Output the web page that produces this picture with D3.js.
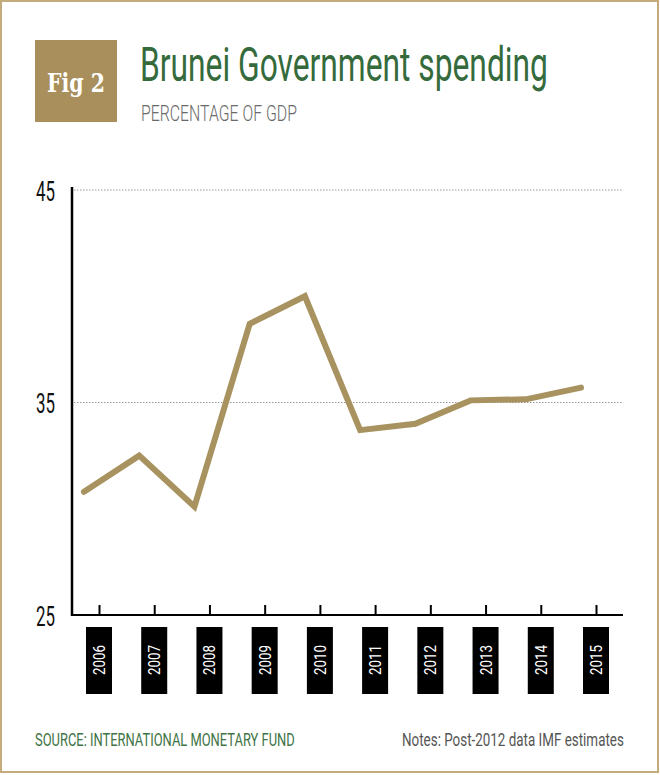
<!DOCTYPE html>
<html>
<head>
<meta charset="utf-8">
<script src="https://cdn.jsdelivr.net/npm/d3@7"></script>
<style>
  body { margin: 0; background: #fff; }
  text { font-family: Roboto, "Noto Sans", sans-serif; }
</style>
</head>
<body>
<div id="chart"></div>
<script>
// 資料
var years = ["2006", "2007", "2008", "2009", "2010", "2011", "2012", "2013", "2014", "2015"];
var spending = [30.8, 32.5, 30.1, 38.7, 40.0, 33.7, 34.0, 35.1, 35.15, 35.7];
var yTicks = [25, 35, 45];

var W = 660, H = 775;

var svg = d3.select("#chart")
    .append("svg")
    .attr("width", W)
    .attr("height", H);

// 把文字水平壓窄到指定寬度（模擬窄體字型）
function squeeze(sel, w, x0, y0) {
    sel.each(function () {
        var len = this.getComputedTextLength();
        var k = w / len;
        d3.select(this).attr("transform",
            "translate(" + x0 + "," + y0 + ") scale(" + k + ",1)");
    });
}

// 外框
svg.append("rect")
    .attr("x", 1).attr("y", 1)
    .attr("width", W - 3).attr("height", H - 4)
    .attr("fill", "#fff")
    .attr("stroke", "#c4ab7c")
    .attr("stroke-width", 2);

// Fig 2 方塊
svg.append("rect")
    .attr("x", 35).attr("y", 40)
    .attr("width", 82).attr("height", 82)
    .attr("fill", "#a98f5b");

svg.append("text")
    .attr("text-anchor", "middle")
    .attr("fill", "#fff")
    .style("font-family", "'DejaVu Serif', 'Liberation Serif', serif")
    .style("font-weight", "bold")
    .style("font-size", "26px")
    .text("Fig 2")
    .call(squeeze, 58, 76, 92);

// 標題
svg.append("text")
    .attr("fill", "#356b3c")
    .style("font-size", "48px")
    .text("Brunei Government spending")
    .call(squeeze, 408, 140, 81);

svg.append("text")
    .attr("fill", "#6a6a6a")
    .style("font-size", "22px")
    .style("font-weight", "300")
    .text("PERCENTAGE OF GDP")
    .call(squeeze, 156, 141, 121);

// 比例尺
var x = d3.scalePoint().domain(years).range([99, 596]);
var lineOffset = -15;  // 折線點位於刻度左側
var y = d3.scaleLinear().domain([25, 45]).range([615, 190]);

// 格線（虛線）
svg.selectAll(".grid")
    .data(yTicks.filter(function (d) { return d > 25; }))
    .enter()
    .append("line")
    .attr("class", "grid")
    .attr("x1", 74).attr("x2", 623)
    .attr("y1", function (d) { return y(d); })
    .attr("y2", function (d) { return y(d); })
    .attr("stroke", "#9a9a9a")
    .attr("stroke-width", 1)
    .attr("stroke-dasharray", "1.5,1.5");

// Y 軸
var yAxis = svg.append("g")
    .attr("transform", "translate(72,0)")
    .call(d3.axisLeft(y).tickValues(yTicks).tickSize(0).tickPadding(17));
yAxis.select(".domain").remove();
yAxis.selectAll("text")
    .attr("fill", "#111")
    .attr("dy", "0.36em")
    .style("font-size", "28px")
    .attr("textLength", 19)
    .attr("lengthAdjust", "spacingAndGlyphs");

svg.append("line")
    .attr("x1", 72).attr("x2", 72)
    .attr("y1", 187).attr("y2", 616)
    .attr("stroke", "#000")
    .attr("stroke-width", 2.5);

// X 軸
svg.append("line")
    .attr("x1", 71).attr("x2", 623)
    .attr("y1", 615).attr("y2", 615)
    .attr("stroke", "#000")
    .attr("stroke-width", 2);

var xAxis = svg.append("g")
    .attr("transform", "translate(0,615)")
    .call(d3.axisTop(x).tickSize(10).tickFormat(""));
xAxis.select(".domain").remove();
xAxis.selectAll(".tick line")
    .attr("stroke", "#000")
    .attr("stroke-width", 2);

// 年份標籤（黑色方塊）
var labels = svg.selectAll(".yr")
    .data(years)
    .enter()
    .append("g")
    .attr("class", "yr")
    .attr("transform", function (d) { return "translate(" + x(d) + ",660)"; });

labels.append("rect")
    .attr("x", -13).attr("y", -33)
    .attr("width", 26).attr("height", 67)
    .attr("fill", "#000");

labels.append("text")
    .attr("transform", "rotate(-90)")
    .attr("text-anchor", "middle")
    .attr("y", 6)
    .attr("fill", "#fff")
    .style("font-size", "16px")
    .attr("textLength", 30)
    .attr("lengthAdjust", "spacingAndGlyphs")
    .text(function (d) { return d; });

// 折線
var line = d3.line()
    .x(function (d, i) { return x(years[i]) + lineOffset; })
    .y(function (d) { return y(d); });

svg.append("path")
    .datum(spending)
    .attr("d", line)
    .attr("fill", "none")
    .attr("stroke", "#a8925f")
    .attr("stroke-width", 6)
    .attr("stroke-linecap", "round")
    .attr("stroke-linejoin", "miter");

// 註腳
svg.append("text")
    .attr("fill", "#3f7447")
    .style("font-size", "19px")
    .text("SOURCE: INTERNATIONAL MONETARY FUND")
    .call(squeeze, 260, 35, 746);

svg.append("text")
    .attr("fill", "#555")
    .style("font-size", "19px")
    .text("Notes: Post-2012 data IMF estimates")
    .call(squeeze, 222, 402, 746);
</script>
</body>
</html>
